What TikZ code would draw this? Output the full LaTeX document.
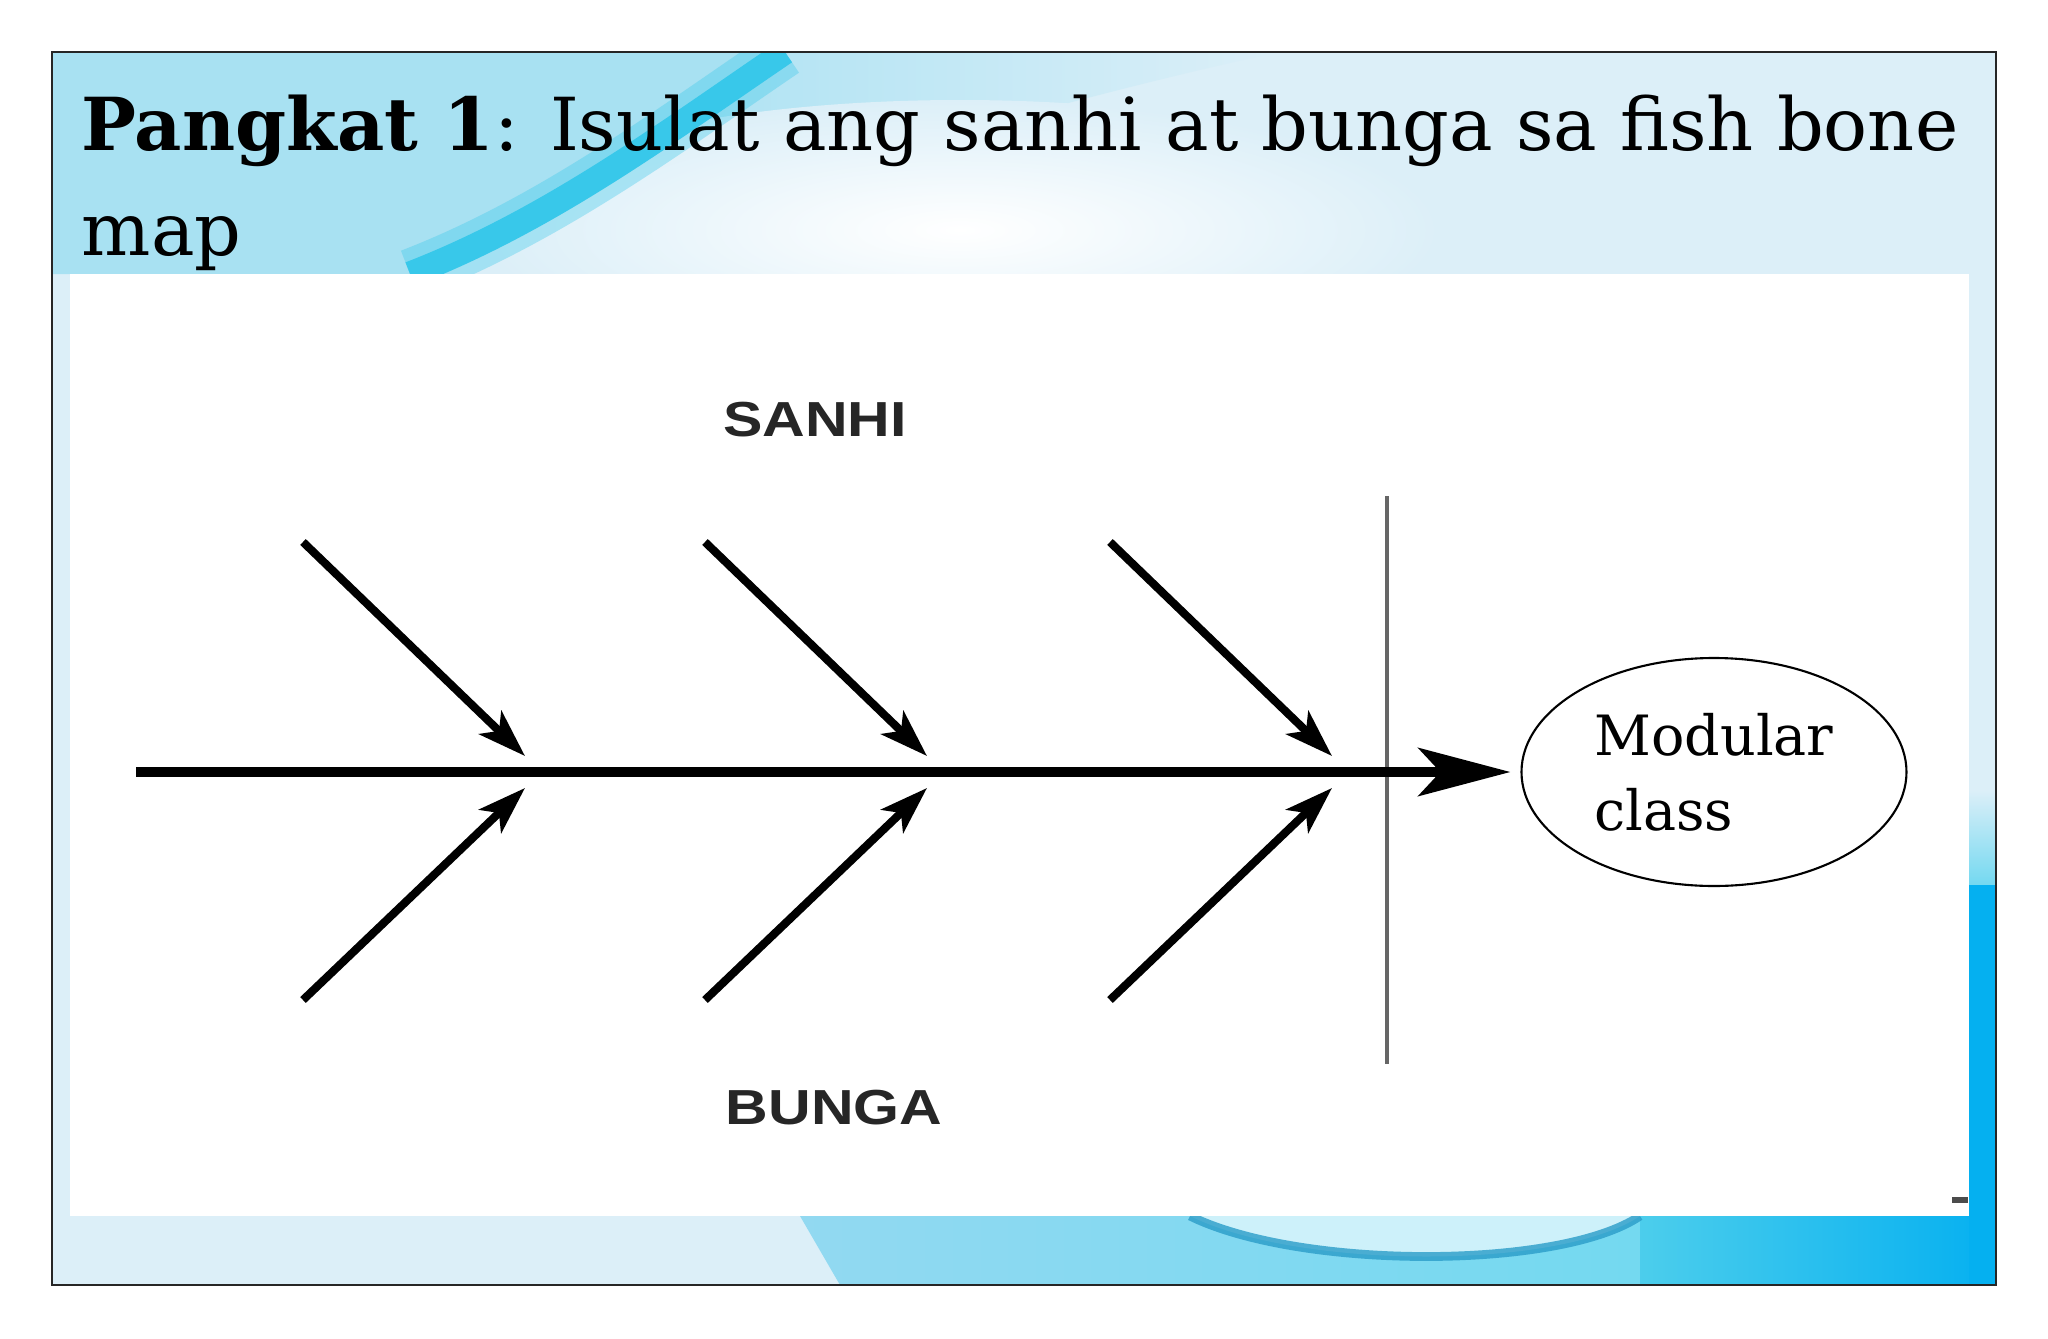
\documentclass[tikz,border=0pt]{standalone}
\usepackage{fontspec}
\setmainfont{DejaVu Serif}
\newfontfamily\motfont{Liberation Sans}
\usetikzlibrary{arrows.meta,calc,shapes.geometric}
\definecolor{fond}{HTML}{DCEFF8}
\definecolor{ciel}{HTML}{A8E1F2}
\definecolor{turquoise}{HTML}{38C8EA}
\definecolor{vague}{HTML}{2A9CC8}
\definecolor{bleuvif}{HTML}{05B0F0}
\definecolor{bleuclair}{HTML}{92D9F1}

\begin{document}
\begin{tikzpicture}[x=1cm,y=1cm,
    bone/.style={line width=2.3pt,-{Stealth[length=4.8mm,width=3.2mm,inset=1.2mm]}},
    spine/.style={line width=2.9pt,-{Stealth[length=9.2mm,width=4.8mm,inset=2.2mm]}},
    mot/.style={font=\motfont\bfseries\fontsize{14}{16}\selectfont,text=black!85}]
  %cadre et fond de la diapositive
  \useasboundingbox (0,0) rectangle (20.48,-13.39);
  \coordinate (NO) at (0.52,-0.52);
  \coordinate (SE) at (19.96,-12.85);
  \begin{scope}
    \clip (NO) rectangle (SE);
    \fill[fond] (NO) rectangle (SE);
    \shade[left color=ciel,right color=fond] (7.0,-0.52) -- (12.8,-0.52)
      .. controls (11.0,-0.9) and (9.0,-1.5) .. (6.0,-2.3) -- cycle;
    \shade[inner color=white,outer color=fond] (9.6,-2.3) ellipse (4.8 and 1.3);
    \fill[ciel] (NO) -- (7.9,-0.52) .. controls (6.8,-1.3) and (5.6,-2.2) .. (4.2,-2.74)
      -- (0.52,-2.74) -- cycle;
    \draw[turquoise,line width=0.5cm,opacity=0.35] (7.85,-0.52) .. controls (6.7,-1.3) and (5.5,-2.2) .. (4.1,-2.74);
    \draw[turquoise,line width=0.25cm] (7.85,-0.52) .. controls (6.7,-1.3) and (5.5,-2.2) .. (4.1,-2.74);
    %bas de la diapositive
    \shade[left color=bleuclair,right color=turquoise!70] (8.0,-12.16) -- (16.4,-12.16)
      -- (16.4,-12.85) -- (8.4,-12.85) -- cycle;
    \shade[left color=turquoise!90!white,right color=bleuvif] (16.4,-12.16) rectangle (SE);
    \fill[white!75!turquoise] (11.9,-12.16) .. controls (13.0,-12.7) and (15.6,-12.7) .. (16.4,-12.16) -- cycle;
    \draw[vague,line width=2.5pt,opacity=0.8] (11.9,-12.16) .. controls (13.0,-12.7) and (15.6,-12.7) .. (16.4,-12.16);
    %bord droit
    \shade[top color=fond,bottom color=turquoise!70] (19.69,-7.9) rectangle (19.96,-8.85);
    \fill[bleuvif] (19.69,-8.85) rectangle (SE);
  \end{scope}
  \fill[white] (0.70,-2.74) rectangle (19.69,-12.16);
  \draw[black!85,line width=0.6pt] (NO) rectangle (SE);
  %titre
  \node[anchor=base west,inner sep=0pt,font=\fontsize{20.8}{25}\selectfont] (titre) at (0.81,-1.50)
    {\textbf{Pangkat 1}: Isulat ang sanhi at bunga sa fish bone};
  \node[anchor=base west,inner sep=0pt,font=\fontsize{20.8}{25}\selectfont] (titre2) at (0.81,-2.55) {map};
  %fish bone
  \node[draw,ellipse,line width=0.6pt,minimum width=3.85cm,minimum height=2.28cm,inner sep=0pt,
    align=left,font=\fontsize{15.8}{21.3}\selectfont] (bunga) at (17.14,-7.72) {Modular\\class};
  \coordinate (queue) at (1.36,-7.72);
  \coordinate (haut) at (13.87,-4.96);
  \coordinate (bas) at (13.87,-10.64);
  \draw[black!60,line width=1.1pt] (haut) -- (bas);
  \foreach \i/\x in {1/3.03,2/7.05,3/11.10}{
    \coordinate (s\i) at (\x,-5.42);
    \coordinate (b\i) at (\x,-10.00);
    \coordinate (ts\i) at (\x+2.22,-7.56);
    \coordinate (tb\i) at (\x+2.22,-7.88);
    \draw[bone] (s\i) -- (ts\i);
    \draw[bone] (b\i) -- (tb\i);
  }
  \draw[spine,shorten >=0.1cm] (queue) -- (bunga);
  \node[mot] (sanhi) at (8.15,-4.20) {\scalebox{1.2}[1]{SANHI}};
  \node[mot] (bungalbl) at (8.34,-11.08) {\scalebox{1.2}[1]{BUNGA}};
  \coordinate (g1) at (19.52,-12.00);
  \coordinate (g2) at (19.68,-12.00);
  \draw[black!70,line width=1.5pt] (g1) -- (g2);
\end{tikzpicture}
\end{document}
